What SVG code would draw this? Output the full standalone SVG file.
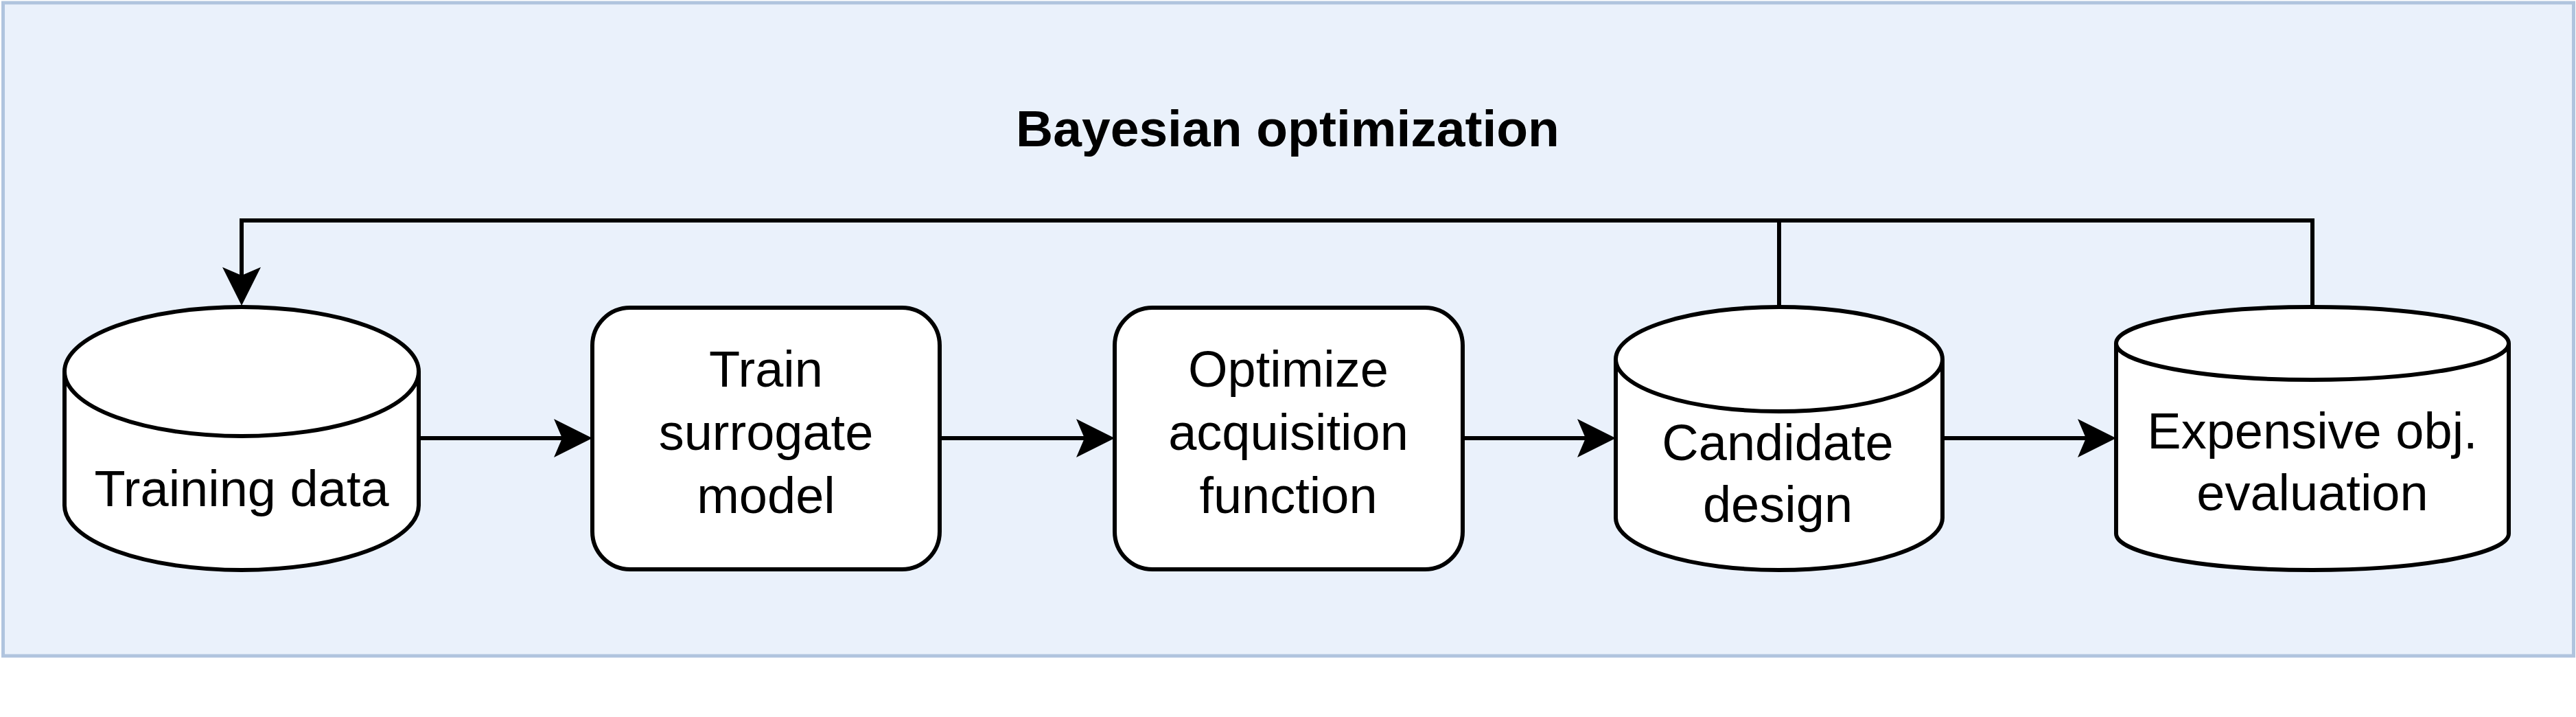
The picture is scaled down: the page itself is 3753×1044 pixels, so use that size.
<svg xmlns="http://www.w3.org/2000/svg" width="3753" height="1044" viewBox="0 0 3753 1044">
  <style>
    .node { fill: #ffffff; stroke: #000000; stroke-width: 6; }
    .lbl { font-family: "Liberation Sans", Arial, sans-serif; font-size: 74px; fill: #000000; text-anchor: middle; }
    .title { font-family: "Liberation Sans", Arial, sans-serif; font-size: 75px; font-weight: bold; fill: #000000; text-anchor: middle; }
    .edge { fill: none; stroke: #000000; stroke-width: 6; }
  </style>
  <defs>
    <marker id="arrow" markerUnits="userSpaceOnUse" markerWidth="60" markerHeight="60" refX="12" refY="28" orient="auto" overflow="visible">
      <path d="M0,0 L56,28 L0,56 L12,28 Z" fill="#000000"/>
    </marker>
  </defs>
  <rect width="3753" height="1044" fill="#ffffff"/>
  <g id="container">
    <rect x="4.5" y="4" width="3745" height="951" fill="#eaf1fb" stroke="#b0c4de" stroke-width="5"/>
    <text class="title" x="1876" y="213">Bayesian optimization</text>
  </g>
  <g id="connectors">
    <path class="edge" d="M610,638 H819" marker-end="url(#arrow)"/>
    <path class="edge" d="M1369,638 H1580" marker-end="url(#arrow)"/>
    <path class="edge" d="M2131,638 H2310" marker-end="url(#arrow)"/>
    <path class="edge" d="M2830,638 H3039" marker-end="url(#arrow)"/>
    <path class="edge" d="M2592,447 V321 H352 V401" marker-end="url(#arrow)"/>
    <path class="edge" d="M3369,447 V321 H2592"/>
  </g>
  <g id="training-data">
    <path class="node" d="M94,541 A258,94 0 0 1 610,541 L610,736 A258,94 0 0 1 94,736 Z"/>
    <path class="node" fill="none" d="M94,541 A258,94 0 0 0 610,541"/>
    <text class="lbl" x="352" y="737">Training data</text>
  </g>
  <g id="train-surrogate">
    <rect class="node" x="863" y="448" width="506" height="381" rx="55" ry="55"/>
    <text class="lbl" x="1116" y="563">Train</text>
    <text class="lbl" x="1116" y="655">surrogate</text>
    <text class="lbl" x="1116" y="747">model</text>
  </g>
  <g id="optimize-acquisition">
    <rect class="node" x="1624" y="448" width="507" height="381" rx="55" ry="55"/>
    <text class="lbl" x="1877" y="563">Optimize</text>
    <text class="lbl" x="1877" y="655">acquisition</text>
    <text class="lbl" x="1877" y="747">function</text>
  </g>
  <g id="candidate-design">
    <path class="node" d="M2354,523 A238,76 0 0 1 2830,523 L2830,754 A238,76 0 0 1 2354,754 Z"/>
    <path class="node" fill="none" d="M2354,523 A238,76 0 0 0 2830,523"/>
    <text class="lbl" x="2590" y="670">Candidate</text>
    <text class="lbl" x="2590" y="760">design</text>
  </g>
  <g id="expensive-evaluation">
    <path class="node" d="M3083,500 A286,53 0 0 1 3655,500 L3655,777 A286,53 0 0 1 3083,777 Z"/>
    <path class="node" fill="none" d="M3083,500 A286,53 0 0 0 3655,500"/>
    <text class="lbl" x="3369" y="653">Expensive obj.</text>
    <text class="lbl" x="3369" y="743">evaluation</text>
  </g>
</svg>
